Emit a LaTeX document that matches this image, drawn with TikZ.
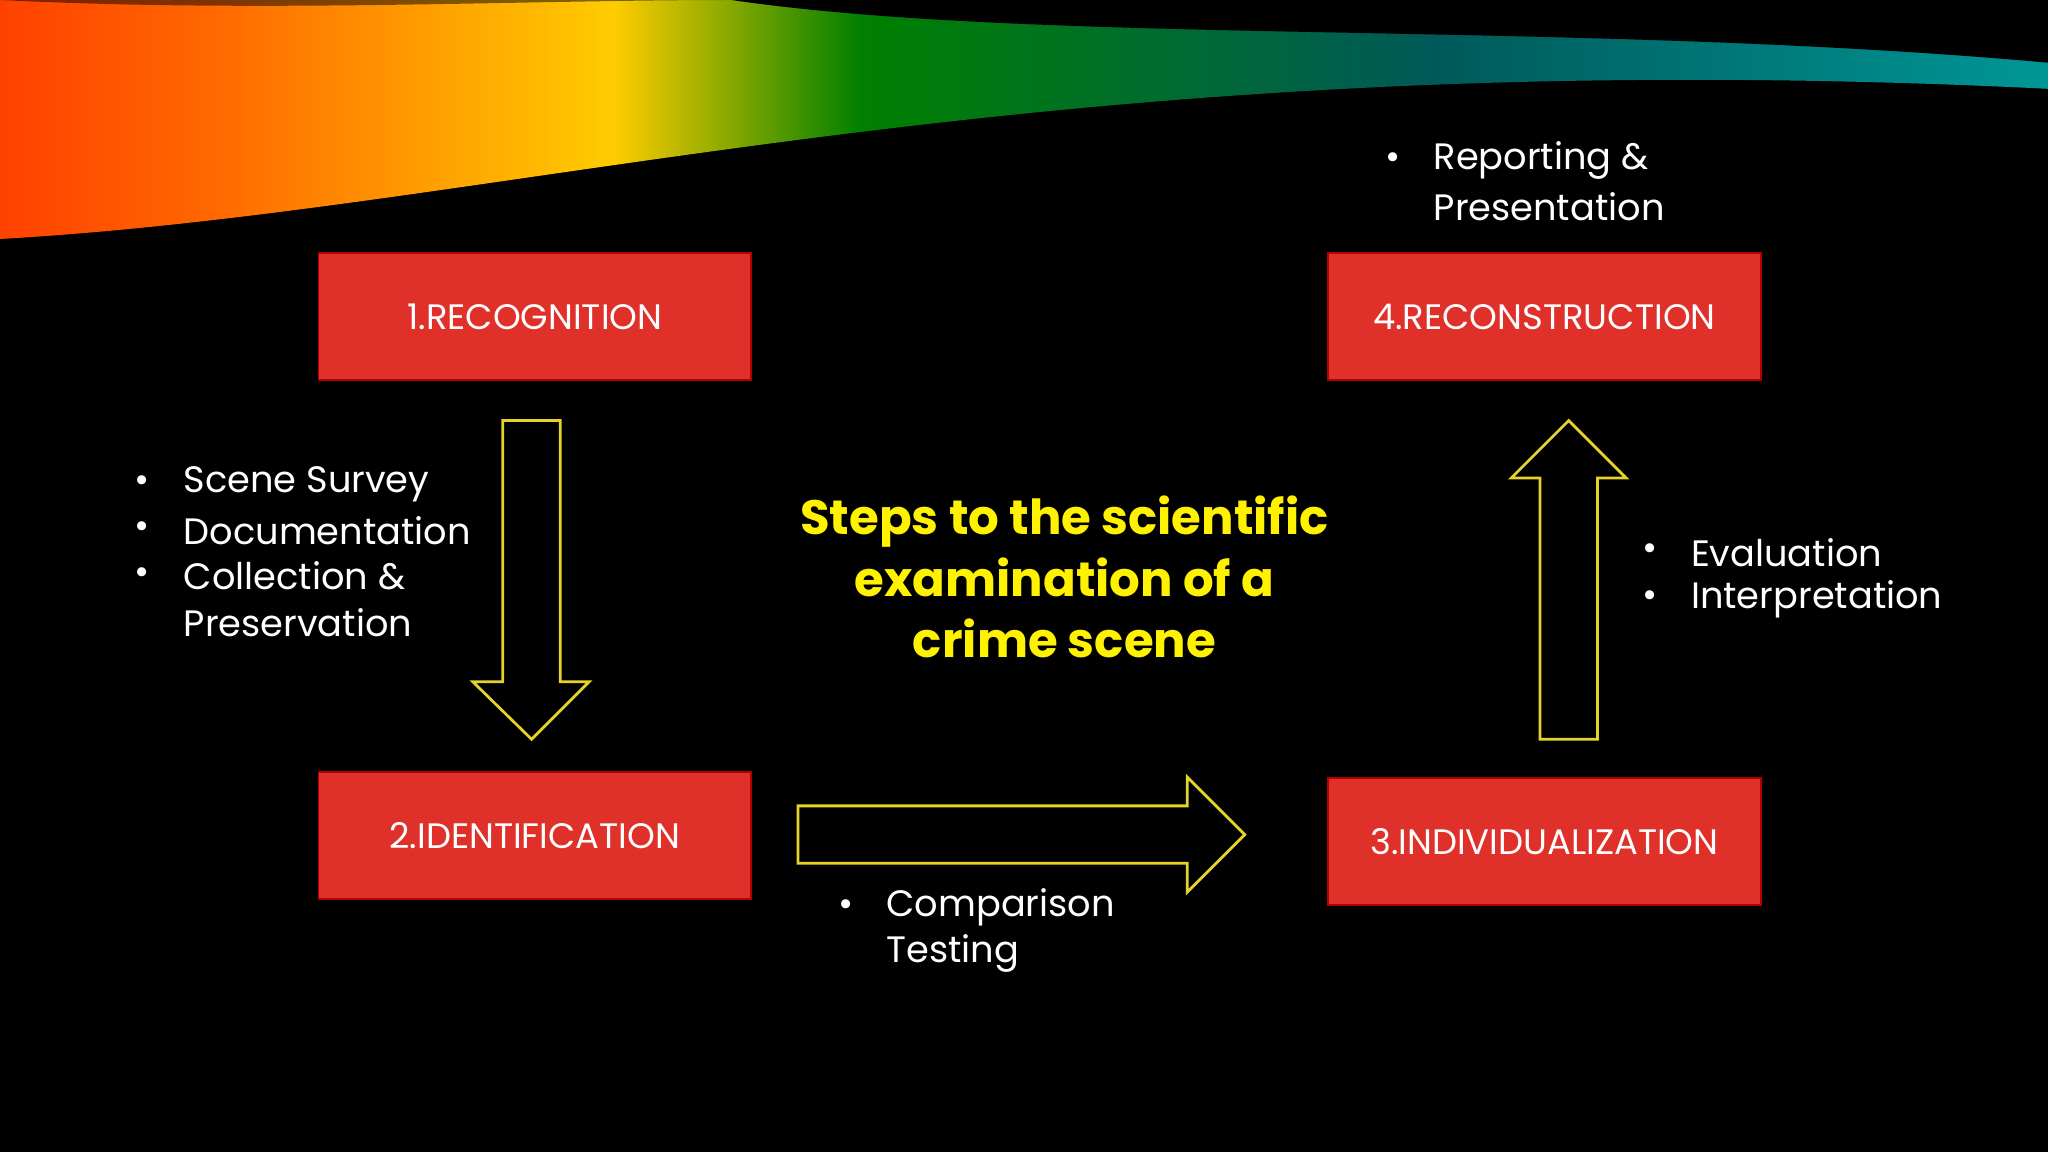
\documentclass[tikz,border=0pt]{standalone}
\usepackage{fontspec}
\setmainfont{Poppins}
\pgfdeclarehorizontalshading{swoosh}{100bp}{color(0bp)=(red!75!black);color(18bp)=(red!90!orange);color(30bp)=(orange!80!red);color(40bp)=(yellow!60!orange);color(46bp)=(green!50!black);color(60bp)=(teal!70!black);color(85bp)=(cyan!50!teal);color(100bp)=(cyan!40!white)}
\tikzset{
  box/.style={draw=red!70!black,fill={rgb,255:red,224;green,48;blue,42},minimum width=3.31cm,minimum height=0.97cm,text=white,font=\fontsize{7.7}{10}\selectfont,inner sep=0pt},
  arr/.style={draw={rgb,255:red,230;green,210;blue,40},fill=black,line width=0.6pt,line join=miter},
  txt/.style={text=white,font=\fontsize{8}{10}\selectfont,anchor=west,inner sep=0pt}
}
\begin{document}
\begin{tikzpicture}[x=0.01cm,y=-0.01cm]
\fill[black] (0,0) rectangle (1568,882);
\useasboundingbox (0,0) rectangle (1568,882);
\shade[shading=swoosh] (0,0) -- (0,183) .. controls (400,160) and (800,30) .. (1568,68) -- (1568,0) -- cycle;
\fill[black] (560,0) .. controls (800,35) and (1200,15) .. (1568,48) -- (1568,0) -- cycle;
\fill[black,opacity=0.5] (0,0) .. controls (200,10) and (400,0) .. (560,0) -- cycle;
\node[box] (b1) at (409.5,242.5) {1.RECOGNITION};
\node[box] (b4) at (1182.5,242.5) {4.RECONSTRUCTION};
\node[box] (b2) at (409.5,639.5) {2.IDENTIFICATION};
\node[box] (b3) at (1182.5,644.5) {3.INDIVIDUALIZATION};
\draw[arr] (385,322) -- (429,322) -- (429,522) -- (451,522) -- (407,566) -- (362,522) -- (385,522) -- cycle;
\draw[arr] (1179,566) -- (1223,566) -- (1223,366) -- (1245,366) -- (1201,322) -- (1157,366) -- (1179,366) -- cycle;
\draw[arr] (611,617) -- (909,617) -- (909,595) -- (953,639) -- (909,683) -- (909,661) -- (611,661) -- cycle;
\foreach \y/\t in {371/Scene Survey,406/Documentation,441/Collection \&}{
  \node[txt] at (102,\y) {•}; \node[txt] at (140,\y) {\t};}
\node[txt] (l4) at (140,477) {Preservation};
\node[txt] at (1060,123) {•}; \node[txt] (r1) at (1097,123) {Reporting \&};
\node[txt] (r2) at (1097,158) {Presentation};
\node[txt] at (1257,423) {•}; \node[txt] (e1) at (1294,423) {Evaluation};
\node[txt] at (1257,459) {•}; \node[txt] (e2) at (1294,459) {Interpretation};
\node[txt] at (641,695) {•}; \node[txt] (c1) at (678,695) {Comparison};
\node[txt] (c2) at (678,730) {Testing};
\node[text=yellow,font=\bfseries\fontsize{10.5}{13.4}\selectfont,align=center] (title) at (815,442) {Steps to the scientific\\examination of a\\crime scene};
\end{tikzpicture}
\end{document}
